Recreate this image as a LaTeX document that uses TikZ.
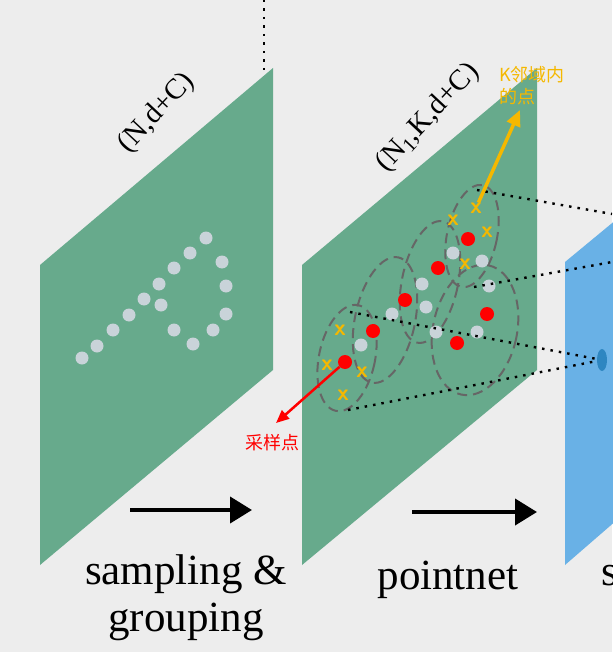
\documentclass[tikz,border=0pt]{standalone}
\usepackage{fontspec}
\setmainfont{Liberation Serif}
\newfontfamily\cjk{Noto Sans CJK SC}
\usetikzlibrary{arrows.meta,shapes.geometric}
\definecolor{bg}{HTML}{EDEDED}
\definecolor{pgreen}{HTML}{67AA8C}
\definecolor{pblue}{HTML}{69B1E6}
\definecolor{dblue}{HTML}{2E86C1}
\definecolor{gdot}{HTML}{C9D3D9}
\definecolor{yel}{HTML}{F5B800}
\begin{document}
\begin{tikzpicture}[x=1pt,y=-1pt,
  gd/.style={circle,fill=gdot,inner sep=0pt,minimum size=13pt},
  rd/.style={circle,fill=red,inner sep=0pt,minimum size=14pt},
  yx/.style={font=\sffamily\bfseries\fontsize{23}{23}\selectfont,text=yel,inner sep=0pt},
  ell/.style={draw=black!60,line width=2pt,dash pattern=on 10pt off 6pt},
  dotl/.style={line width=2.4pt,dash pattern=on 2.5pt off 6pt},
  big/.style={font=\fontsize{43}{47}\selectfont}]
\fill[bg] (0,0) rectangle (612,652);
\useasboundingbox (0,0) rectangle (612,652);
\draw[dotl] (264,0) -- (264,80);
% panels
\fill[pgreen] (40,265) -- (273,68) -- (273,370) -- (40,565) -- cycle;
\fill[pgreen] (302,265) -- (537,68) -- (537,370) -- (302,565) -- cycle;
\fill[pblue] (565,262) -- (640,200) -- (640,500) -- (565,565) -- cycle;
% panel 1 points
\foreach \x/\y [count=\i] in {82/358,97/346,113/330,129/315,144/299,159/284,174/268,190/253,206/238,222/262,226/286,226/314,213/330,193/344,174/330,161/305}
  \node[gd] (p\i) at (\x,\y) {};
\node[rotate=47,font=\fontsize{29}{32}\selectfont] (l1) at (157,113) {(N,d+C)};
% panel 2 ellipses
\foreach \x/\y/\a/\b [count=\i] in {347/358/28/54,385/320/30/64,430/282/28/62,472/236/25/52,475/330/42/66}
  \draw[ell,rotate around={-12:(\x,\y)}] (\x,\y) ellipse ({\a} and {\b});
\foreach \x/\y [count=\i] in {361/345,392/314,422/284,426/307,436/332,453/253,482/261,489/286,477/332}
  \node[gd] (g\i) at (\x,\y) {};
\foreach \x/\y [count=\i] in {345/362,373/331,405/300,438/268,468/239,487/314,457/343}
  \node[rd] (r\i) at (\x,\y) {};
\foreach \x/\y [count=\i] in {340/330,327/365,362/372,343/395,453/220,476/208,487/232,465/264}
  \node[yx] (y\i) at (\x,\y) {x};
\node[rotate=47,font=\fontsize{29}{32}\selectfont] (l2) at (428,118) {(N\textsubscript{1},K,d+C)};
% blue target
\node[ellipse,fill=dblue,inner sep=0pt,minimum width=10pt,minimum height=22pt] (bd) at (602,360) {};
\coordinate (c1) at (612,214);
\coordinate (c2) at (612,262);
\draw[dotl] (477,190) -- (c1);
\draw[dotl] (474,287) -- (c2);
\draw[dotl] (348,410) -- (bd);
\draw[dotl] (350,312) -- (bd);
% annotation arrows
\draw[yel,line width=3.5pt,-{Triangle[length=16pt,width=14pt]}] (y6) -- (520,110);
\node[text=yel,font=\cjk\fontsize{18}{22}\selectfont,align=left,anchor=north west,inner sep=0pt] (t1) at (499,66) {K邻域内\\的点};
\draw[red,line width=2.5pt,-{Triangle[length=13pt,width=11pt]}] (r1) -- (276,423);
\node[text=red,font=\cjk\fontsize{18}{22}\selectfont] (t2) at (272,443) {采样点};
% flow arrows
\draw[line width=4pt,-{Triangle[length=22pt,width=26pt]}] (130,510) -- (252,510);
\draw[line width=4pt,-{Triangle[length=22pt,width=26pt]}] (412,512) -- (537,512);
\node[big,align=center] (s1) at (186,598) {sampling \&\\grouping};
\node[big] (s2) at (448,580) {pointnet};
\node[big,anchor=west] (s3) at (598,576) {s};
\end{tikzpicture}
\end{document}
